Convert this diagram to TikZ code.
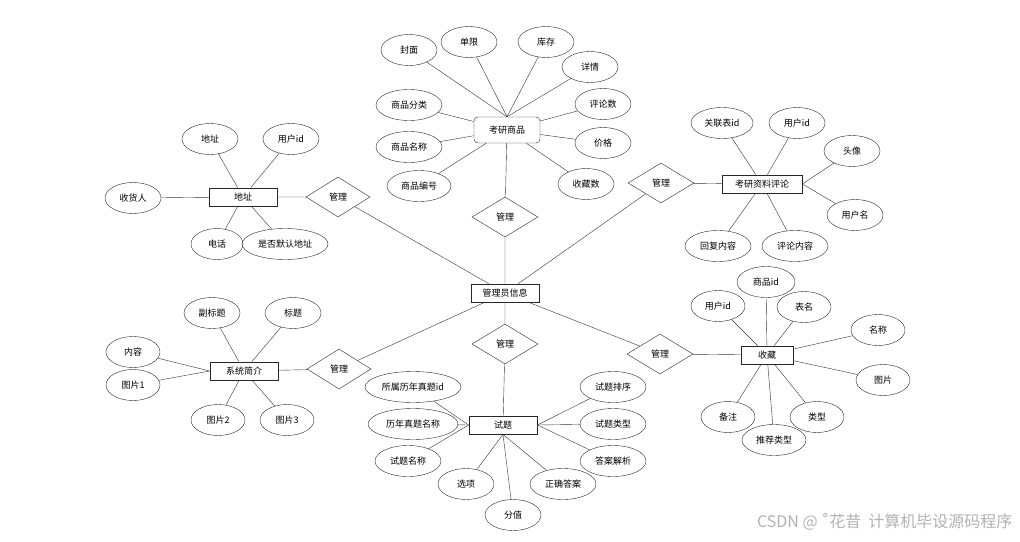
\documentclass[tikz,border=0pt]{standalone}
\usepackage{fontspec}
\setmainfont{Noto Sans CJK SC}
\newfontfamily\djv{DejaVu Sans}
\usetikzlibrary{shapes.geometric}
\begin{document}
\begin{tikzpicture}[x=1pt,y=-1pt,font=\fontsize{9pt}{10pt}\selectfont,
 attr/.style={draw=black!85,ellipse,inner sep=0pt,minimum height=31pt,minimum width=56pt},
 ent/.style={draw=black!85,thick,inner sep=0pt,minimum height=18pt,minimum width=68pt,fill=white},
 rel/.style={draw=black!85,diamond,aspect=1.6,inner sep=0pt,minimum width=66pt,minimum height=40pt},
 ln/.style={draw=black!80}]
\useasboundingbox (0,0) rectangle (1020,541);
% top
\node[ent,rounded corners=4pt,minimum width=66pt,minimum height=26pt,thin] (g) at (507,130) {考研商品};
\node[attr] (g1) at (409,50) {封面};
\node[attr] (g2) at (469,42) {单限};
\node[attr] (g3) at (546,42) {库存};
\node[attr] (g4) at (590,67) {详情};
\node[attr] (g5) at (603,104) {评论数};
\node[attr] (g6) at (603,143) {价格};
\node[attr] (g7) at (586,184) {收藏数};
\node[attr,minimum width=66pt] (g8) at (409,105) {商品分类};
\node[attr,minimum width=66pt] (g9) at (409,147) {商品名称};
\node[attr,minimum width=64pt] (g10) at (419,186) {商品编号};
\foreach \i in {1,2,3,4} \draw[ln] (g\i) -- (g.north);
\foreach \i in {5,6,7,8,9,10} \draw[ln] (g\i) -- (g);
\node[rel] (r1) at (505,217) {管理};
\node[ent] (m) at (505,293) {管理员信息};
\draw[ln] (g) -- (r1) -- (m);
% left top
\node[ent] (a) at (243,197) {地址};
\node[attr] (a1) at (210,139) {地址};
\node[attr] (a2) at (291,139) {用户id};
\node[attr] (a3) at (133,198) {收货人};
\node[attr,minimum width=52pt] (a4) at (217,244) {电话};
\node[attr,minimum width=86pt] (a5) at (285,244) {是否默认地址};
\foreach \i in {1,2,3,4,5} \draw[ln] (a\i) -- (a);
\node[rel,minimum width=64pt] (r2) at (338,197) {管理};
\draw[ln] (a) -- (r2) -- (m);
% right top
\node[ent,minimum width=80pt] (c) at (762,184) {考研资料评论};
\node[attr,minimum width=62pt] (c1) at (722,123) {关联表id};
\node[attr] (c2) at (797,123) {用户id};
\node[attr] (c3) at (852,151) {头像};
\node[attr] (c4) at (855,215) {用户名};
\node[attr,minimum width=66pt] (c5) at (718,246) {回复内容};
\node[attr,minimum width=66pt] (c6) at (795,246) {评论内容};
\foreach \i in {1,2,5,6} \draw[ln] (c\i) -- (c);
\foreach \i in {3,4} \draw[ln] (c\i) -- (c.east);
\node[rel] (r3) at (661,183) {管理};
\draw[ln] (c) -- (r3) -- (m);
% left bottom
\node[ent] (s) at (244,371) {系统简介};
\node[attr] (s1) at (212,313) {副标题};
\node[attr] (s2) at (293,313) {标题};
\node[attr,minimum width=54pt] (s3) at (133,352) {内容};
\node[attr,minimum width=54pt] (s4) at (133,385) {图片1};
\node[attr,minimum width=54pt] (s5) at (218,420) {图片2};
\node[attr,minimum width=54pt] (s6) at (287,420) {图片3};
\foreach \i in {1,2,5,6} \draw[ln] (s\i) -- (s);
\foreach \i in {3,4} \draw[ln] (s\i) -- (s.west);
\node[rel,minimum width=64pt] (r4) at (339,369) {管理};
\draw[ln] (s) -- (r4) -- (m);
% right bottom
\node[ent,minimum width=52pt] (f) at (767,355) {收藏};
\node[attr,minimum width=58pt] (f1) at (766,282) {商品id};
\node[attr,minimum width=54pt] (f2) at (718,306) {用户id};
\node[attr,minimum width=54pt] (f3) at (804,307) {表名};
\node[attr,minimum width=54pt] (f4) at (878,330) {名称};
\node[attr,minimum width=54pt] (f5) at (883,380) {图片};
\node[attr,minimum width=54pt] (f6) at (728,417) {备注};
\node[attr,minimum width=64pt] (f7) at (774,440) {推荐类型};
\node[attr,minimum width=54pt] (f8) at (817,417) {类型};
\foreach \i in {1,...,8} \draw[ln] (f\i) -- (f);
\node[rel] (r5) at (660,354) {管理};
\draw[ln] (f) -- (r5) -- (m);
% bottom
\node[rel] (r6) at (505,344) {管理};
\node[ent] (t) at (503,425) {试题};
\draw[ln] (m) -- (r6) -- (t);
\node[attr,minimum width=96pt] (t1) at (413,387) {所属历年真题id};
\node[attr,minimum width=90pt] (t2) at (413,424) {历年真题名称};
\node[attr,minimum width=66pt] (t3) at (408,461) {试题名称};
\node[attr] (t4) at (466,484) {选项};
\node[attr] (t5) at (513,515) {分值};
\node[attr,minimum width=66pt] (t6) at (563,484) {正确答案};
\node[attr,minimum width=66pt] (t7) at (613,387) {试题排序};
\node[attr,minimum width=66pt] (t8) at (613,424) {试题类型};
\node[attr,minimum width=66pt] (t9) at (613,461) {答案解析};
\foreach \i in {1,2,3} \draw[ln] (t\i) -- (t.west);
\foreach \i in {7,8,9} \draw[ln] (t\i) -- (t.east);
\foreach \i in {4,5,6} \draw[ln] (t\i) -- (t.south);
\node[text=black!30,font=\fontsize{16pt}{17pt}\selectfont,anchor=east] (wm) at (1016,522) {CSDN @ {\djv ˚}花昔\ \ 计算机毕设源码程序};
\end{tikzpicture}
\end{document}
